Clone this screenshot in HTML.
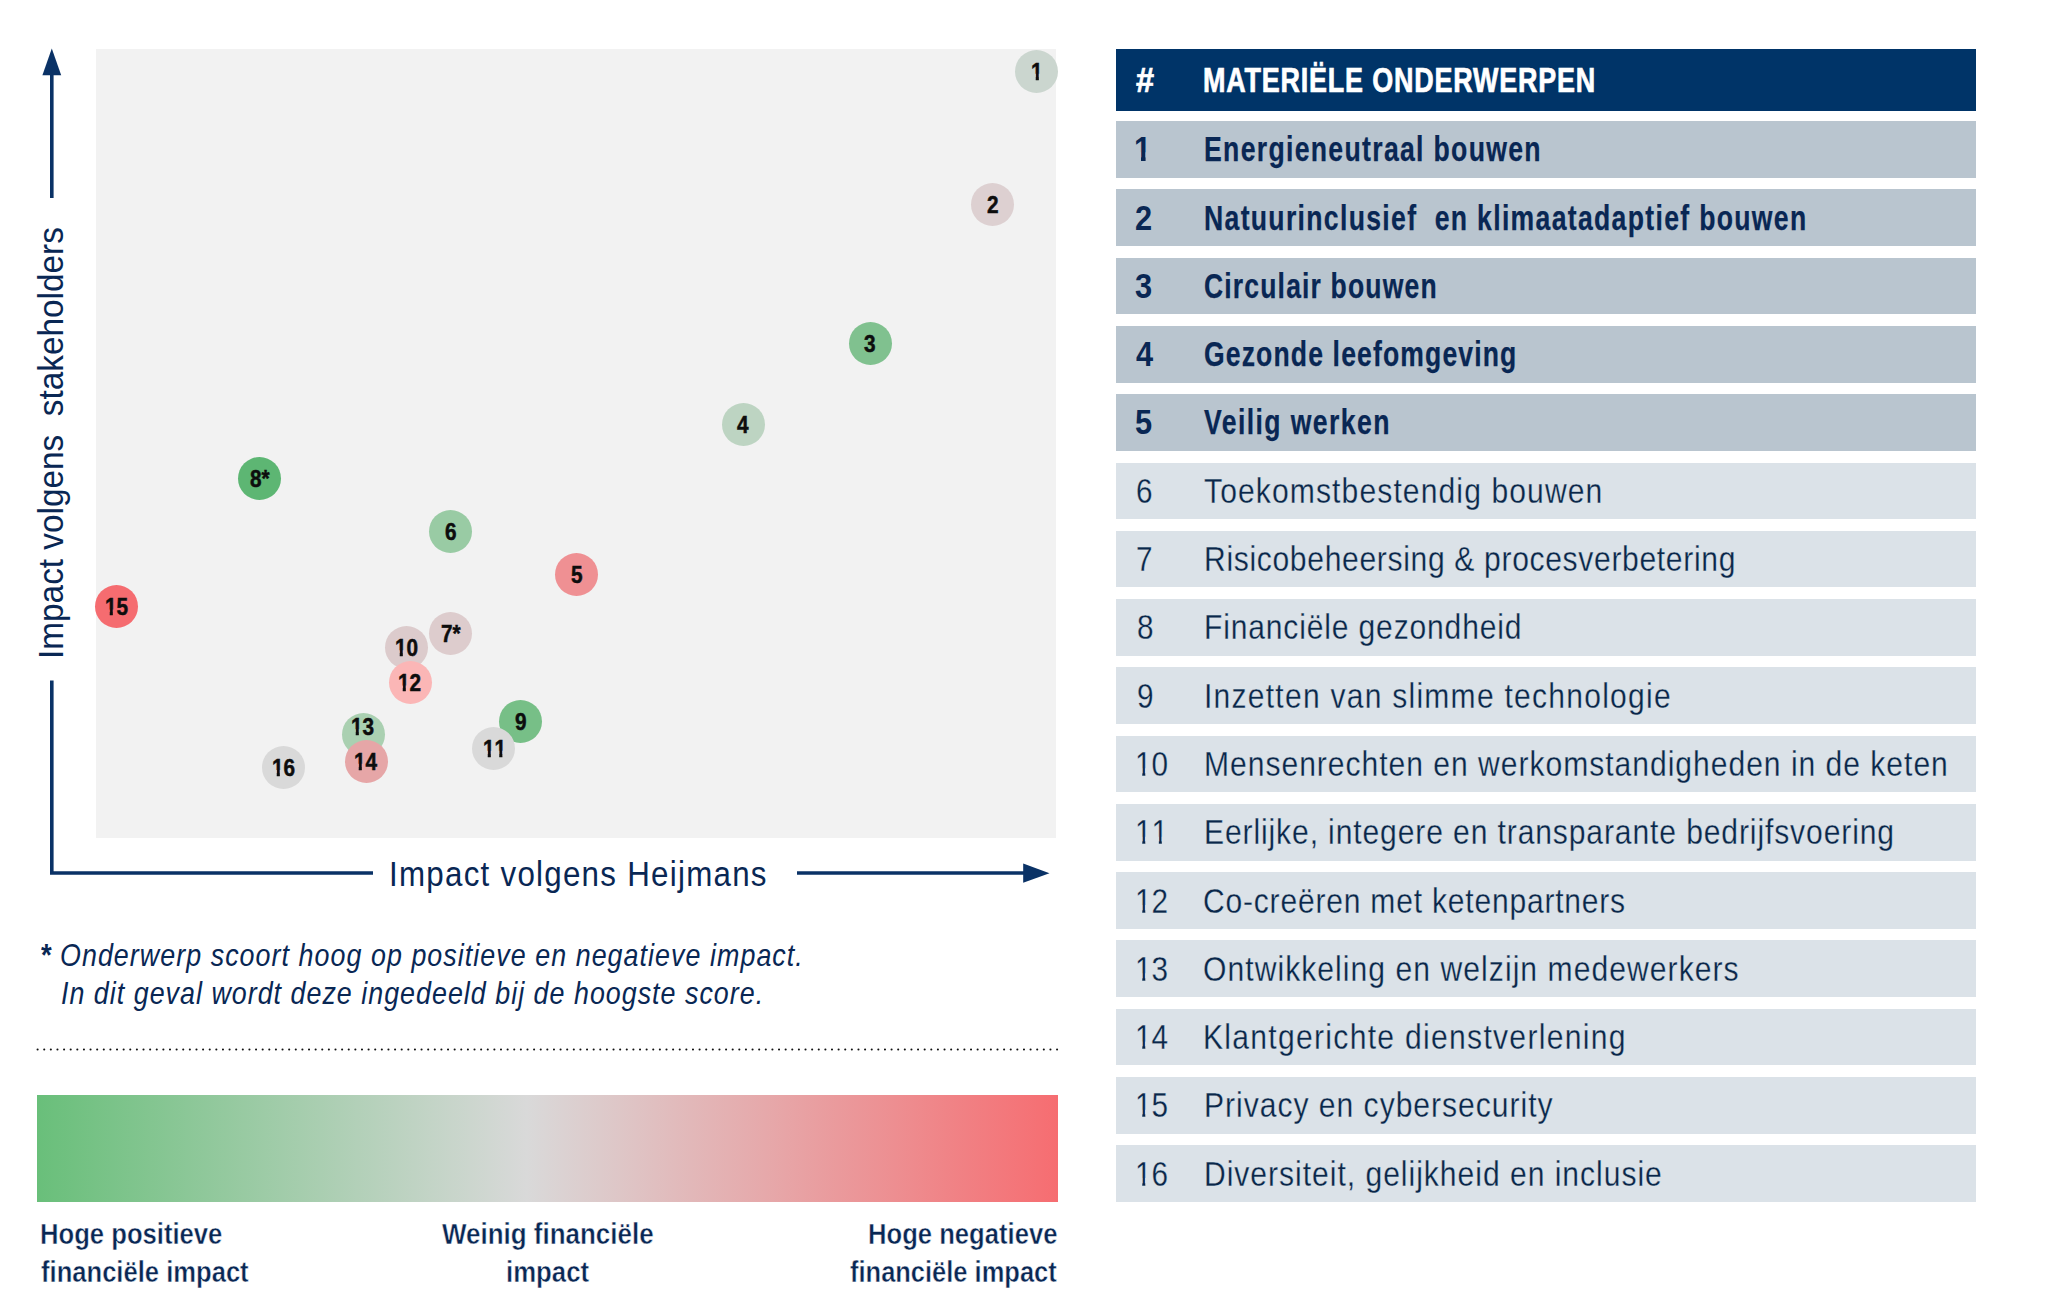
<!DOCTYPE html>
<html lang="nl"><head><meta charset="utf-8"><title>Materialiteitsmatrix</title>
<style>
html,body{margin:0;padding:0;background:#fff}
body{width:2048px;height:1302px;position:relative;overflow:hidden;font-family:"Liberation Sans",sans-serif}
.t{position:absolute;white-space:pre;line-height:1;transform-origin:0 0;font-family:"Liberation Sans",sans-serif}
.r{position:absolute}
.b{position:absolute;border-radius:50%;width:43px;height:43px}
.n{position:absolute;white-space:pre;line-height:1;transform-origin:0 0;font-weight:700;color:#0d0d0d;-webkit-text-stroke:0.5px #0d0d0d;font-size:23.9px;font-family:"Liberation Sans",sans-serif}
.o{display:inline-block;clip-path:polygon(0 0,100% 0,100% 60%,62% 60%,62% 100%,44.3% 100%,44.3% 60%,0 60%)}
.ob{display:inline-block;clip-path:polygon(0 0,100% 0,100% 60%,67.6% 60%,67.6% 100%,41% 100%,41% 60%,0 60%)}
</style></head><body>
<div class="r" style="left:95.5px;top:49px;width:960.5px;height:789px;background:#f2f2f2"></div>
<svg class="r" style="left:0;top:0" width="1100" height="900" viewBox="0 0 1100 900">
<g fill="none" stroke="#0a3266" stroke-width="3.6"><path d="M51.8 74 V198"/><path d="M51.8 680.5 V873 H373"/><path d="M797 873 H1025"/></g>
<g fill="#0a3266"><path d="M51.8 48.5 L61.2 75.2 H42.4 Z"/><path d="M1049.5 873.2 L1023.2 863.6 V882.8 Z"/></g>
</svg>
<div class="b" style="left:1014.5px;top:49.5px;background:#cbd6cf"></div><div class="n" style="left:1031.2px;top:59.5px;transform:scaleX(0.869)"><span class="ob">1</span></div>
<div class="b" style="left:971.0px;top:183.0px;background:#ddd0d1"></div><div class="n" style="left:986.9px;top:193.0px;transform:scaleX(0.869)">2</div>
<div class="b" style="left:848.5px;top:321.5px;background:#80c18f"></div><div class="n" style="left:864.4px;top:331.5px;transform:scaleX(0.869)">3</div>
<div class="b" style="left:721.5px;top:402.7px;background:#bdd4c2"></div><div class="n" style="left:736.9px;top:412.7px;transform:scaleX(0.869)">4</div>
<div class="b" style="left:555.0px;top:553.3px;background:#ef9093"></div><div class="n" style="left:570.9px;top:563.3px;transform:scaleX(0.869)">5</div>
<div class="b" style="left:429.0px;top:509.7px;background:#99cba4"></div><div class="n" style="left:444.9px;top:519.7px;transform:scaleX(0.869)">6</div>
<div class="b" style="left:238.3px;top:457.2px;background:#5db673"></div><div class="n" style="left:249.8px;top:467.2px;transform:scaleX(0.869)">8*</div>
<div class="b" style="left:95.3px;top:585.1px;background:#f56c70"></div><div class="n" style="left:104.6px;top:595.1px;transform:scaleX(0.869)"><span class="ob">1</span>5</div>
<div class="b" style="left:429.0px;top:611.8px;background:#ddcccd"></div><div class="n" style="left:440.5px;top:621.8px;transform:scaleX(0.869)">7*</div>
<div class="b" style="left:385.2px;top:625.8px;background:#dccbcc"></div><div class="n" style="left:395.0px;top:635.8px;transform:scaleX(0.869)"><span class="ob">1</span>0</div>
<div class="b" style="left:388.5px;top:661.2px;background:#fbb6b6"></div><div class="n" style="left:398.3px;top:671.2px;transform:scaleX(0.869)"><span class="ob">1</span>2</div>
<div class="b" style="left:499.2px;top:699.8px;background:#77bf87"></div><div class="n" style="left:515.1px;top:709.8px;transform:scaleX(0.869)">9</div>
<div class="b" style="left:471.5px;top:726.5px;background:#d9d9d9"></div><div class="n" style="left:482.6px;top:736.5px;transform:scaleX(0.869)"><span class="ob">1</span><span class="ob">1</span></div>
<div class="b" style="left:341.5px;top:712.5px;background:#aad0b1"></div><div class="n" style="left:351.3px;top:715.0px;transform:scaleX(0.869)"><span class="ob">1</span>3</div>
<div class="b" style="left:344.5px;top:739.5px;background:#e6a6a7"></div><div class="n" style="left:353.8px;top:749.5px;transform:scaleX(0.869)"><span class="ob">1</span>4</div>
<div class="b" style="left:262.1px;top:745.7px;background:#d9d9d9"></div><div class="n" style="left:271.9px;top:755.7px;transform:scaleX(0.869)"><span class="ob">1</span>6</div>
<div class="t" id="ylab" style="left:33.5px;top:659.1px;font-size:35.5px;color:#092754;transform:rotate(-90deg) scaleX(0.9393)">Impact volgens  stakeholders</div>
<svg class="r" style="left:0;top:1040px" width="1100" height="20"><line x1="37.6" y1="9.5" x2="1058.5" y2="9.5" stroke="#111" stroke-width="2.1" stroke-linecap="round" stroke-dasharray="0 6.62"/></svg>
<div class="r" style="left:36.6px;top:1095px;width:1021.4px;height:107px;background:linear-gradient(90deg,#69bf7a 0%,#d9d9d9 48%,#f66d71 100%)"></div>
<div class="r" style="left:1115.8px;top:49.0px;width:860.2px;height:62.3px;background:#003468"></div>
<div class="r" style="left:1115.8px;top:121.10px;width:860.2px;height:56.7px;background:#b9c5cf"></div>
<div class="r" style="left:1115.8px;top:189.38px;width:860.2px;height:56.7px;background:#b9c5cf"></div>
<div class="r" style="left:1115.8px;top:257.66px;width:860.2px;height:56.7px;background:#b9c5cf"></div>
<div class="r" style="left:1115.8px;top:325.94px;width:860.2px;height:56.7px;background:#b9c5cf"></div>
<div class="r" style="left:1115.8px;top:394.22px;width:860.2px;height:56.7px;background:#b9c5cf"></div>
<div class="r" style="left:1115.8px;top:462.50px;width:860.2px;height:56.7px;background:#dbe2e8"></div>
<div class="r" style="left:1115.8px;top:530.78px;width:860.2px;height:56.7px;background:#dbe2e8"></div>
<div class="r" style="left:1115.8px;top:599.06px;width:860.2px;height:56.7px;background:#dbe2e8"></div>
<div class="r" style="left:1115.8px;top:667.34px;width:860.2px;height:56.7px;background:#dbe2e8"></div>
<div class="r" style="left:1115.8px;top:735.62px;width:860.2px;height:56.7px;background:#dbe2e8"></div>
<div class="r" style="left:1115.8px;top:803.90px;width:860.2px;height:56.7px;background:#dbe2e8"></div>
<div class="r" style="left:1115.8px;top:872.18px;width:860.2px;height:56.7px;background:#dbe2e8"></div>
<div class="r" style="left:1115.8px;top:940.46px;width:860.2px;height:56.7px;background:#dbe2e8"></div>
<div class="r" style="left:1115.8px;top:1008.74px;width:860.2px;height:56.7px;background:#dbe2e8"></div>
<div class="r" style="left:1115.8px;top:1077.02px;width:860.2px;height:56.7px;background:#dbe2e8"></div>
<div class="r" style="left:1115.8px;top:1145.30px;width:860.2px;height:56.7px;background:#dbe2e8"></div>
<div class="t" style="left:1135.6px;top:63.3px;font-size:34.5px;color:#fff;transform:scaleX(0.9421);font-weight:700;-webkit-text-stroke:0.7px #fff">#</div>
<div class="t" style="left:1203.1px;top:63.3px;font-size:34.5px;color:#fff;transform:scaleX(0.7800);font-weight:700;letter-spacing:1.049px;-webkit-text-stroke:0.7px #fff">MATERIËLE ONDERWERPEN</div>
<div class="t" style="left:1133.7px;top:131.2px;font-size:35px;color:#092754;transform:scaleX(0.8800);font-weight:700"><span class="ob">1</span></div>
<div class="t" style="left:1203.7px;top:131.2px;font-size:35px;color:#092754;transform:scaleX(0.7604);font-weight:700;letter-spacing:1.724px;-webkit-text-stroke:0.25px #092754">Energieneutraal bouwen</div>
<div class="t" style="left:1135.3px;top:199.5px;font-size:35px;color:#092754;transform:scaleX(0.8800);font-weight:700">2</div>
<div class="t" style="left:1204.1px;top:199.5px;font-size:35px;color:#092754;transform:scaleX(0.7599);font-weight:700;letter-spacing:1.73px;-webkit-text-stroke:0.25px #092754">Natuurinclusief  en klimaatadaptief bouwen</div>
<div class="t" style="left:1135.3px;top:267.7px;font-size:35px;color:#092754;transform:scaleX(0.8800);font-weight:700">3</div>
<div class="t" style="left:1204.2px;top:267.7px;font-size:35px;color:#092754;transform:scaleX(0.7577);font-weight:700;letter-spacing:1.539px;-webkit-text-stroke:0.25px #092754">Circulair bouwen</div>
<div class="t" style="left:1136.2px;top:336.0px;font-size:35px;color:#092754;transform:scaleX(0.8800);font-weight:700">4</div>
<div class="t" style="left:1204.2px;top:336.0px;font-size:35px;color:#092754;transform:scaleX(0.7589);font-weight:700;letter-spacing:1.496px;-webkit-text-stroke:0.25px #092754">Gezonde leefomgeving</div>
<div class="t" style="left:1135.3px;top:404.3px;font-size:35px;color:#092754;transform:scaleX(0.8800);font-weight:700">5</div>
<div class="t" style="left:1204.0px;top:404.3px;font-size:35px;color:#092754;transform:scaleX(0.7588);font-weight:700;letter-spacing:1.886px;-webkit-text-stroke:0.25px #092754">Veilig werken</div>
<div class="t" style="left:1135.7px;top:473.8px;font-size:35.8px;color:#0b2649;transform:scaleX(0.8300);-webkit-text-stroke:0.3px #dbe2e8">6</div>
<div class="t" style="left:1204.0px;top:473.8px;font-size:35.8px;color:#0b2649;transform:scaleX(0.8413);letter-spacing:1.292px;-webkit-text-stroke:0.3px #dbe2e8">Toekomstbestendig bouwen</div>
<div class="t" style="left:1135.7px;top:542.1px;font-size:35.8px;color:#0b2649;transform:scaleX(0.8300);-webkit-text-stroke:0.3px #dbe2e8">7</div>
<div class="t" style="left:1203.9px;top:542.1px;font-size:35.8px;color:#0b2649;transform:scaleX(0.8398);letter-spacing:0.796px;-webkit-text-stroke:0.3px #dbe2e8">Risicobeheersing &amp; procesverbetering</div>
<div class="t" style="left:1136.6px;top:610.4px;font-size:35.8px;color:#0b2649;transform:scaleX(0.8300);-webkit-text-stroke:0.3px #dbe2e8">8</div>
<div class="t" style="left:1203.9px;top:610.4px;font-size:35.8px;color:#0b2649;transform:scaleX(0.8385);letter-spacing:1.017px;-webkit-text-stroke:0.3px #dbe2e8">Financiële gezondheid</div>
<div class="t" style="left:1136.6px;top:678.6px;font-size:35.8px;color:#0b2649;transform:scaleX(0.8300);-webkit-text-stroke:0.3px #dbe2e8">9</div>
<div class="t" style="left:1203.9px;top:678.6px;font-size:35.8px;color:#0b2649;transform:scaleX(0.8393);letter-spacing:1.485px;-webkit-text-stroke:0.3px #dbe2e8">Inzetten van slimme technologie</div>
<div class="t" style="left:1134.8px;top:746.9px;font-size:35.8px;color:#0b2649;transform:scaleX(0.8300);-webkit-text-stroke:0.3px #dbe2e8"><span class="o">1</span>0</div>
<div class="t" style="left:1203.9px;top:746.9px;font-size:35.8px;color:#0b2649;transform:scaleX(0.8403);letter-spacing:1.16px;-webkit-text-stroke:0.3px #dbe2e8">Mensenrechten en werkomstandigheden in de keten</div>
<div class="t" style="left:1134.8px;top:815.2px;font-size:35.8px;color:#0b2649;transform:scaleX(0.8300);-webkit-text-stroke:0.3px #dbe2e8"><span class="o">1</span><span class="o">1</span></div>
<div class="t" style="left:1203.9px;top:815.2px;font-size:35.8px;color:#0b2649;transform:scaleX(0.8402);letter-spacing:1.045px;-webkit-text-stroke:0.3px #dbe2e8">Eerlijke, integere en transparante bedrijfsvoering</div>
<div class="t" style="left:1134.8px;top:883.5px;font-size:35.8px;color:#0b2649;transform:scaleX(0.8300);-webkit-text-stroke:0.3px #dbe2e8"><span class="o">1</span>2</div>
<div class="t" style="left:1203.1px;top:883.5px;font-size:35.8px;color:#0b2649;transform:scaleX(0.8392);letter-spacing:0.945px;-webkit-text-stroke:0.3px #dbe2e8">Co-creëren met ketenpartners</div>
<div class="t" style="left:1134.8px;top:951.8px;font-size:35.8px;color:#0b2649;transform:scaleX(0.8300);-webkit-text-stroke:0.3px #dbe2e8"><span class="o">1</span>3</div>
<div class="t" style="left:1203.1px;top:951.8px;font-size:35.8px;color:#0b2649;transform:scaleX(0.8405);letter-spacing:1.247px;-webkit-text-stroke:0.3px #dbe2e8">Ontwikkeling en welzijn medewerkers</div>
<div class="t" style="left:1134.8px;top:1020.0px;font-size:35.8px;color:#0b2649;transform:scaleX(0.8300);-webkit-text-stroke:0.3px #dbe2e8"><span class="o">1</span>4</div>
<div class="t" style="left:1203.1px;top:1020.0px;font-size:35.8px;color:#0b2649;transform:scaleX(0.8410);letter-spacing:1.522px;-webkit-text-stroke:0.3px #dbe2e8">Klantgerichte dienstverlening</div>
<div class="t" style="left:1134.8px;top:1088.3px;font-size:35.8px;color:#0b2649;transform:scaleX(0.8300);-webkit-text-stroke:0.3px #dbe2e8"><span class="o">1</span>5</div>
<div class="t" style="left:1203.9px;top:1088.3px;font-size:35.8px;color:#0b2649;transform:scaleX(0.8411);letter-spacing:1.154px;-webkit-text-stroke:0.3px #dbe2e8">Privacy en cybersecurity</div>
<div class="t" style="left:1134.8px;top:1156.6px;font-size:35.8px;color:#0b2649;transform:scaleX(0.8300);-webkit-text-stroke:0.3px #dbe2e8"><span class="o">1</span>6</div>
<div class="t" style="left:1203.9px;top:1156.6px;font-size:35.8px;color:#0b2649;transform:scaleX(0.8397);letter-spacing:1.172px;-webkit-text-stroke:0.3px #dbe2e8">Diversiteit, gelijkheid en inclusie</div>
<div class="t" style="left:388.7px;top:856.5px;font-size:35.5px;color:#092754;transform:scaleX(0.8814);letter-spacing:1.439px">Impact volgens Heijmans</div>
<div class="t" style="left:41.0px;top:939.5px;font-size:31.2px;color:#092754;transform:scaleX(0.8833);font-weight:700">*</div>
<div class="t" style="left:60.4px;top:939.5px;font-size:31.2px;color:#092754;transform:scaleX(0.8601);font-style:italic;letter-spacing:1.224px">Onderwerp scoort hoog op positieve en negatieve impact.</div>
<div class="t" style="left:61.3px;top:977.6px;font-size:31.2px;color:#092754;transform:scaleX(0.8605);font-style:italic;letter-spacing:1.176px">In dit geval wordt deze ingedeeld bij de hoogste score.</div>
<div class="t" style="left:39.5px;top:1219.9px;font-size:29.2px;color:#092754;transform:scaleX(0.8785);font-weight:700;-webkit-text-stroke:0.45px #fff">Hoge positieve</div>
<div class="t" style="left:41.3px;top:1258.0px;font-size:29.2px;color:#092754;transform:scaleX(0.8768);font-weight:700;-webkit-text-stroke:0.45px #fff">financiële impact</div>
<div class="t" style="left:442.2px;top:1219.9px;font-size:29.2px;color:#092754;transform:scaleX(0.8895);font-weight:700;-webkit-text-stroke:0.45px #fff">Weinig financiële</div>
<div class="t" style="left:505.8px;top:1258.0px;font-size:29.2px;color:#092754;transform:scaleX(0.8826);font-weight:700;-webkit-text-stroke:0.45px #fff">impact</div>
<div class="t" style="left:867.8px;top:1219.9px;font-size:29.2px;color:#092754;transform:scaleX(0.8779);font-weight:700;-webkit-text-stroke:0.45px #fff">Hoge negatieve</div>
<div class="t" style="left:850.3px;top:1258.0px;font-size:29.2px;color:#092754;transform:scaleX(0.8730);font-weight:700;-webkit-text-stroke:0.45px #fff">financiële impact</div>
</body></html>
